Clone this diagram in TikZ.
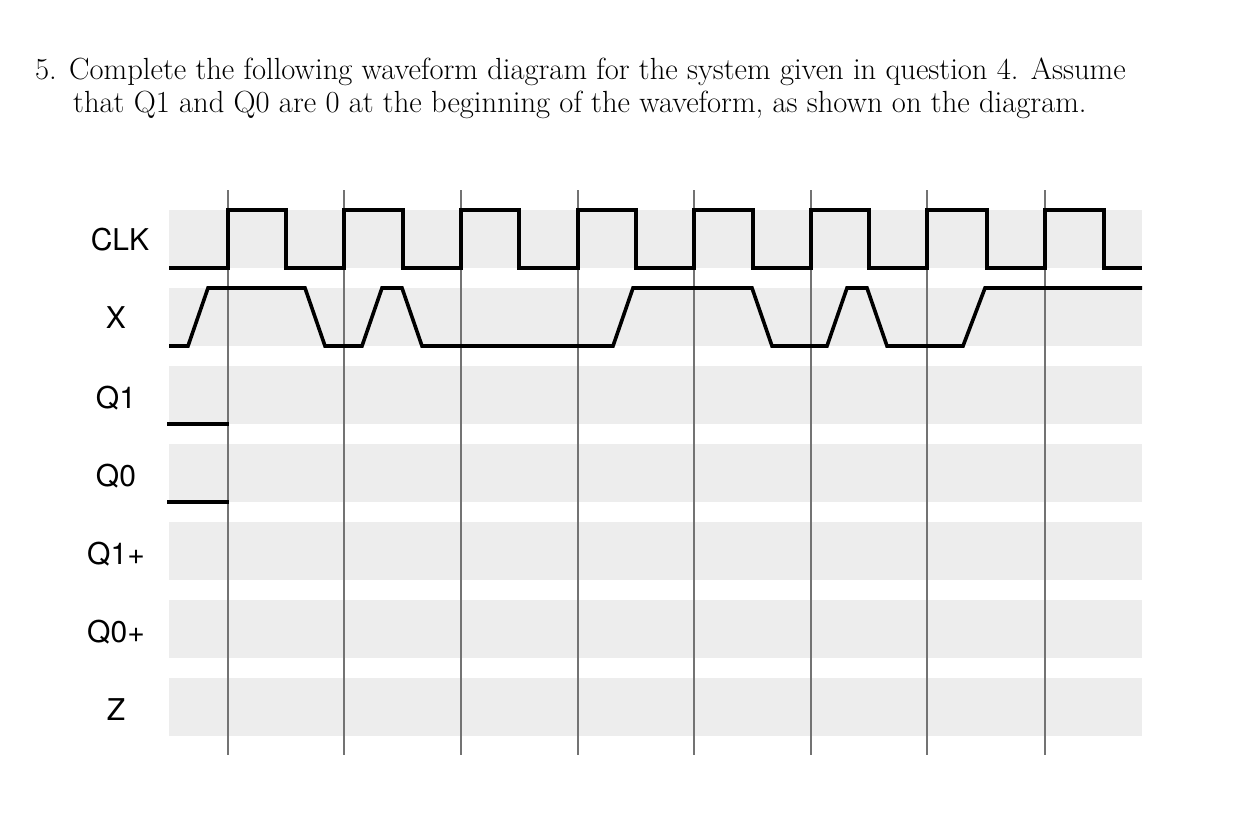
\documentclass[tikz,border=0pt]{standalone}
\usepackage{fontspec}
\newfontfamily\wsans{TeX Gyre Heros}
\begin{document}
\begin{tikzpicture}[x=1pt,y=-1pt,
  band/.style={fill=black!7,draw=none},
  grid/.style={draw=black!55,line width=1.5pt},
  wave/.style={draw=black,line width=3.6pt,line join=miter},
  lbl/.style={font=\wsans\fontsize{30}{36}\selectfont,anchor=center},
  ttl/.style={font=\fontsize{30.6}{40}\selectfont,anchor=west,inner sep=0}]
\useasboundingbox (0,0) rectangle (1260,828);
\node[ttl] (t1) at (35,72) {5. Complete the following waveform diagram for the system given in question 4. Assume};
\node[ttl] (t2) at (73,105) {that Q1 and Q0 are 0 at the beginning of the waveform, as shown on the diagram.};
\foreach \y in {210,288,366,444,522,600,678} \fill[band] (169,\y) rectangle (1142,\y+58);
\foreach \x in {228,344,461,578,694,811,927,1045} \draw[grid] (\x,190) -- (\x,755);
\draw[wave] (169,268) -- (228,268) -- (228,210) -- (286,210) -- (286,268) -- (344,268) -- (344,210) -- (403,210) -- (403,268) -- (461,268) -- (461,210) -- (519,210) -- (519,268) -- (578,268) -- (578,210) -- (636,210) -- (636,268) -- (694,268) -- (694,210) -- (753,210) -- (753,268) -- (811,268) -- (811,210) -- (869,210) -- (869,268) -- (927,268) -- (927,210) -- (987,210) -- (987,268) -- (1045,268) -- (1045,210) -- (1104,210) -- (1104,268) -- (1142,268);
\draw[wave] (169,346) -- (188,346) -- (208,288) -- (305,288) -- (325,346) -- (362,346) -- (382,288) -- (402,288) -- (422,346) -- (613,346) -- (633,288) -- (752,288) -- (772,346) -- (827,346) -- (847,288) -- (867,288) -- (887,346) -- (963,346) -- (985,288) -- (1142,288);
\draw[wave] (167,424) -- (229,424);
\draw[wave] (167,502) -- (229,502);
\node[lbl] (l1) at (120,240) {CLK};
\node[lbl] (l2) at (116,318) {X};
\node[lbl] (l3) at (116,398) {Q1};
\node[lbl] (l4) at (116,476) {Q0};
\node[lbl] (l5) at (116,554) {Q1+};
\node[lbl] (l6) at (116,632) {Q0+};
\node[lbl] (l7) at (116,710) {Z};
\end{tikzpicture}
\end{document}
